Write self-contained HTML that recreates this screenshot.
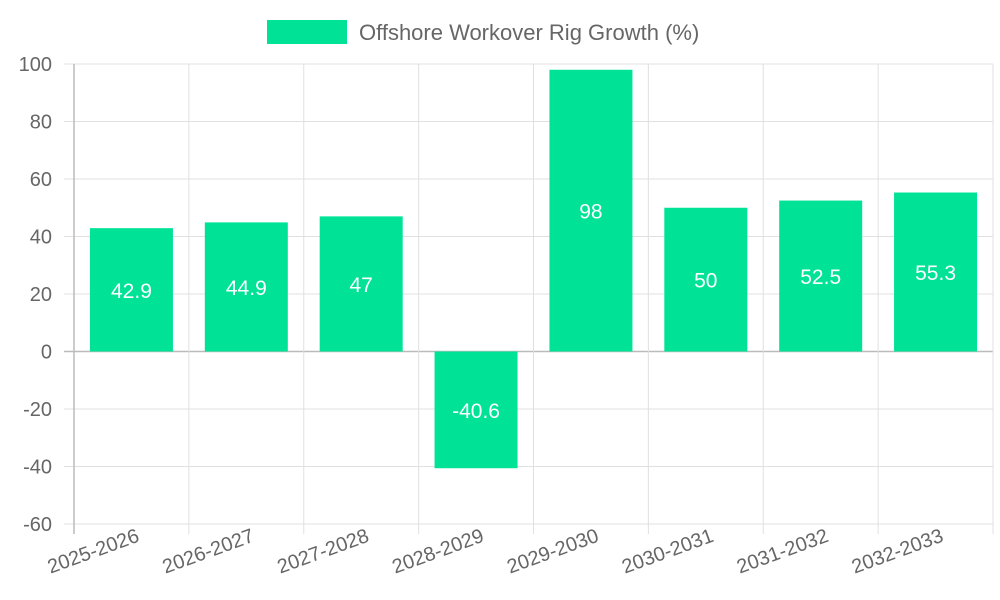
<!DOCTYPE html>
<html><head><meta charset="utf-8"><style>
body{margin:0;background:#fff;}
svg{display:block;font-family:"Liberation Sans",sans-serif;}
</style></head><body>
<svg id="chart" width="1000" height="600">
<g id="grid"></g><g id="bars"></g><g id="labels"></g>
<g>
<rect x="267" y="20" width="80" height="24" fill="#00E396"></rect>
<text x="359" y="40" font-size="22" fill="#666">Offshore Workover Rig Growth (%)</text>
</g>
</svg>
<script>
const categories=["2025-2026","2026-2027","2027-2028","2028-2029","2029-2030","2030-2031","2031-2032","2032-2033"];
const values=[42.9,44.9,47,-40.6,98,50,52.5,55.3];
const yTicks=[100,80,60,40,20,0,-20,-40,-60];
const L=74,R=993,T=64,B=524,yMax=100,yMin=-60;
const ns="http://www.w3.org/2000/svg";
const y=v=>T+(yMax-v)*(B-T)/(yMax-yMin);
const bw=(R-L)/categories.length;
const x=i=>L+bw*i;
function mk(tag,attrs,parent,txt){const e=document.createElementNS(ns,tag);for(const k in attrs)e.setAttribute(k,attrs[k]);if(txt!==undefined)e.textContent=txt;document.getElementById(parent).appendChild(e);return e;}
yTicks.forEach(t=>{
  const l=mk('line',{x1:L-10,x2:R,y1:y(t),y2:y(t),stroke:t===0?'#bbb':'#e0e0e0','stroke-width':t===0?1.5:1},'grid');
  
  
  const tx=mk('text',{x:L-22,y:y(t)+7,'text-anchor':'end','font-size':20,fill:'#666'},'labels',String(t));
  
  
});
for(let i=0;i<=categories.length;i++){
  const l=mk('line',{x1:x(i),x2:x(i),y1:T,y2:B+10,stroke:i===0?'#bbb':'#e0e0e0','stroke-width':i===0?1.5:1},'grid');
  
  
}
categories.forEach((c,i)=>{
  const cx=x(i)+bw/2, v=values[i];
  const r=mk('rect',{x:cx-41.5,width:83,y:Math.min(y(v),y(0)),height:Math.abs(y(v)-y(0)),fill:'#00E396'},'bars');
  
  
  const vl=mk('text',{x:cx,y:(y(v)+y(0))/2+8,'text-anchor':'middle','font-size':21,fill:'#fff'},'labels',String(v));
  
  
  const xl=mk('text',{x:cx+9,y:541,'text-anchor':'end','font-size':20,fill:'#666',transform:`rotate(-20 ${cx+9} 541)`},'labels',c);
  
  
});
</script>
</body></html>
